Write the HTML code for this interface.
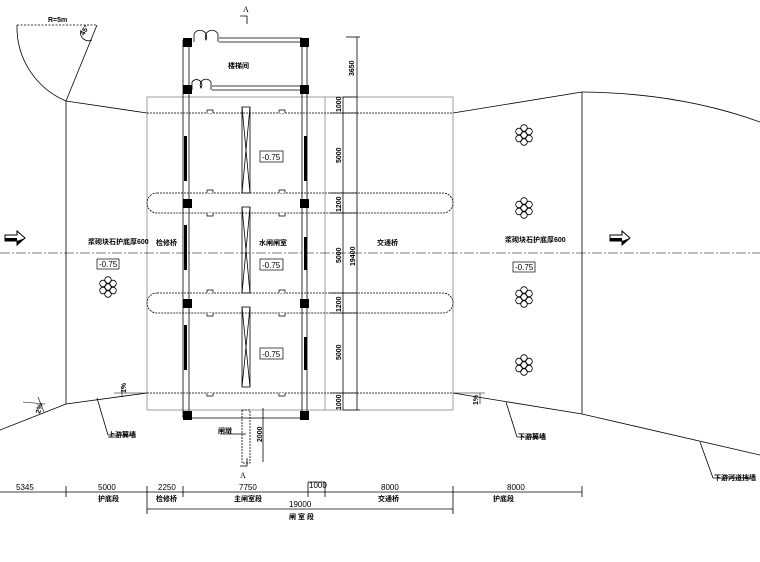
<!DOCTYPE html>
<html><head><meta charset="utf-8"><style>
html,body{margin:0;padding:0;background:#fff;}
svg{display:block;font-family:"Liberation Sans","Noto Sans CJK SC",sans-serif;}
text{font-size:8px;fill:#000;}
.s{font-size:7px;font-weight:bold;}
</style></head><body>
<svg width="760" height="562" viewBox="0 0 760 562" xmlns="http://www.w3.org/2000/svg">
<defs>
<g id="stone" fill="none" stroke="#000" stroke-width="0.8">
<circle cx="0" cy="-7" r="3.3"/><circle cx="-5" cy="-3.5" r="3.3"/><circle cx="5" cy="-3.5" r="3.3"/>
<circle cx="0" cy="0" r="3.3"/><circle cx="-5" cy="3.5" r="3.3"/><circle cx="5" cy="3.5" r="3.3"/><circle cx="0" cy="7" r="3.3"/>
</g>
<g id="arrow"><polygon points="0,-3 12,-3 12,-7 20,0 12,7 12,3 0,3" fill="#fff" stroke="#000"/><polygon points="0,0 12,0 12,3 20,0 12,7 12,3 0,3" fill="#000"/></g>
<g id="notch" fill="#fff" stroke="#000" stroke-width="0.7"><path d="M-3,0 V-3 H3 V0"/></g>
<g id="notchd" fill="#fff" stroke="#000" stroke-width="0.7"><path d="M-3,0 V3 H3 V0"/></g>
</defs>
<g fill="none" stroke="#000" stroke-width="0.8">
<line x1="17" y1="25" x2="97" y2="25" stroke-dasharray="2,1.5"/>
<path d="M17,25 A80,80 0 0 0 66,101"/>
<line x1="97" y1="25" x2="66" y2="101"/>
<path d="M81,30 A8,8 0 0 0 92,40"/>
<line x1="66" y1="101" x2="66" y2="404"/>
<line x1="66" y1="101" x2="147" y2="113"/>
<polyline points="147,393 66,404 0,430"/>
<line x1="97" y1="398" x2="108" y2="435"/><line x1="108" y1="435" x2="135" y2="435"/>
<line x1="582" y1="92" x2="582" y2="414"/>
<line x1="453" y1="113" x2="582" y2="92"/>
<path d="M582,92 Q680,93 760,122"/>
<polyline points="453,393 582,414 760,455"/>
<line x1="506" y1="402" x2="517" y2="437"/><line x1="517" y1="437" x2="545" y2="437"/>
<line x1="700" y1="442" x2="713" y2="478"/><line x1="713" y1="478" x2="750" y2="478"/>
<rect x="147" y="97" width="306" height="313" stroke="#888"/>
<line x1="325" y1="97" x2="325" y2="410" stroke="#888"/>
<line x1="147" y1="113" x2="453" y2="113" stroke-dasharray="2,1"/>
<line x1="147" y1="393" x2="453" y2="393" stroke-dasharray="2,1"/>
<path d="M157,193 H443 A10,10 0 0 1 443,213 H157 A10,10 0 0 1 157,193 Z" stroke-dasharray="2,1"/>
<path d="M157,293 H443 A10,10 0 0 1 443,313 H157 A10,10 0 0 1 157,293 Z" stroke-dasharray="2,1"/>
<line x1="183" y1="40" x2="183" y2="418"/><line x1="189" y1="40" x2="189" y2="418"/>
<line x1="302" y1="40" x2="302" y2="418"/><line x1="307" y1="40" x2="307" y2="418"/>
<line x1="219" y1="38" x2="302" y2="38"/><line x1="219" y1="42" x2="302" y2="42"/>
<line x1="212" y1="86" x2="302" y2="86"/><line x1="212" y1="90" x2="302" y2="90"/>
<path d="M194,42 V34 A6,6 0 0 1 206,40 A6,6 0 0 1 218,34 V42"/>
<path d="M192,90 V82 A5,5 0 0 1 201,88 A5,5 0 0 1 211,82 V90"/>
<line x1="183" y1="418" x2="307" y2="418"/>
<rect x="242" y="107" width="8" height="86"/><path d="M242,107 L250,193 M250,107 L242,193"/>
<rect x="242" y="207" width="8" height="86"/><path d="M242,207 L250,293 M250,207 L242,293"/>
<rect x="242" y="307" width="8" height="80"/><path d="M242,307 L250,387 M250,307 L242,387"/>
<rect x="242" y="410" width="8" height="53" stroke-dasharray="2,1"/>
<line x1="220" y1="434" x2="246" y2="434"/>
<line x1="263" y1="408" x2="263" y2="462"/>
<line x1="343" y1="97" x2="343" y2="410"/><line x1="357" y1="37" x2="357" y2="410"/>
<line x1="343" y1="97" x2="357" y2="97"/><line x1="330" y1="113" x2="357" y2="113"/>
<line x1="330" y1="193" x2="357" y2="193"/><line x1="330" y1="213" x2="357" y2="213"/>
<line x1="330" y1="293" x2="357" y2="293"/><line x1="330" y1="313" x2="357" y2="313"/>
<line x1="330" y1="393" x2="357" y2="393"/><line x1="343" y1="410" x2="360" y2="410"/>
<line x1="346" y1="37" x2="360" y2="37"/>
<polyline points="240,16 247,16 247,24"/><polyline points="247,458 247,466 240,466"/>
<line x1="0" y1="492" x2="582" y2="492"/>
<line x1="147" y1="509" x2="453" y2="509"/>
<path d="M66,486 V497 M147,486 V514 M183,486 V497 M308,482 V497 M325,482 V497 M453,486 V514 M582,486 V497"/>
<line x1="308" y1="482" x2="325" y2="482"/>
</g>
<use href="#notch" x="210" y="113"/><use href="#notch" x="282" y="113"/>
<use href="#notch" x="210" y="193"/><use href="#notch" x="282" y="193"/>
<use href="#notchd" x="210" y="213"/><use href="#notchd" x="282" y="213"/>
<use href="#notch" x="210" y="293"/><use href="#notch" x="282" y="293"/>
<use href="#notchd" x="210" y="313"/><use href="#notchd" x="282" y="313"/>
<use href="#notchd" x="210" y="393"/><use href="#notchd" x="282" y="393"/>
<line x1="0" y1="253" x2="760" y2="253" stroke="#000" stroke-width="0.6" stroke-dasharray="10,2,2,2"/>
<g stroke="#000" stroke-width="0.6" fill="none"><path d="M23,402 L45,404 M38,397 L44,412 M114,393 L147,393 M122,386 V397 M453,393 L485,393 M480,393 V404"/></g>
<g fill="#000">
<rect x="183" y="38" width="9" height="9"/><rect x="300" y="38" width="9" height="9"/>
<rect x="183" y="85" width="9" height="9"/><rect x="300" y="85" width="9" height="9"/>
<rect x="183" y="199" width="9" height="9"/><rect x="300" y="199" width="9" height="9"/>
<rect x="183" y="299" width="9" height="9"/><rect x="300" y="299" width="9" height="9"/>
<rect x="183" y="411" width="9" height="9"/><rect x="300" y="411" width="9" height="9"/>
<rect x="184" y="136" width="3" height="45"/><rect x="304" y="136" width="3" height="45"/>
<rect x="184" y="225" width="3" height="45"/><rect x="304" y="237" width="3" height="33"/>
<rect x="184" y="325" width="3" height="45"/><rect x="304" y="337" width="3" height="33"/>
</g>
<use href="#arrow" x="5" y="238"/><use href="#arrow" x="610" y="238"/>
<use href="#stone" x="108" y="287"/><use href="#stone" x="524" y="135"/><use href="#stone" x="524" y="208"/>
<use href="#stone" x="524" y="297"/><use href="#stone" x="524" y="365"/>
<g fill="none" stroke="#000" stroke-width="0.7">
<rect x="97" y="259" width="22" height="10"/><rect x="260" y="151" width="23" height="11"/>
<rect x="260" y="259" width="23" height="11"/><rect x="260" y="348" width="23" height="11"/>
<rect x="513" y="262" width="22" height="10"/>
</g>
<g font-size="8">
<text x="99" y="267">-0.75</text><text x="262" y="160">-0.75</text><text x="262" y="268">-0.75</text>
<text x="262" y="357">-0.75</text><text x="515" y="270">-0.75</text>
</g>
<text x="243" y="12" font-size="10" font-family="Liberation Serif">A</text>
<text x="240" y="478" font-size="10" font-family="Liberation Serif">A</text>
<text x="48" y="22" class="s">R=5m</text>
<text x="84" y="36" class="s" transform="rotate(-60 84 36)">45°</text>
<text class="s" x="228" y="68">楼梯间</text>
<text x="88" y="244" class="s">浆砌块石护底厚600</text>
<text x="156" y="245" class="s">检修桥</text>
<text x="259" y="245" class="s">水闸闸室</text>
<text x="377" y="245" class="s">交通桥</text>
<text x="505" y="242" class="s">浆砌块石护底厚600</text>
<text x="108" y="437" class="s">上游翼墙</text>
<text x="518" y="439" class="s">下游翼墙</text>
<text x="714" y="480" class="s">下游河道挡墙</text>
<text x="218" y="433" class="s">闸墩</text>
<g class="s" font-size="7">
<text transform="translate(354,76) rotate(-90)" class="s">3650</text>
<text transform="translate(341,112) rotate(-90)" class="s">1000</text>
<text transform="translate(341,163) rotate(-90)" class="s">5000</text>
<text transform="translate(341,212) rotate(-90)" class="s">1200</text>
<text transform="translate(341,263) rotate(-90)" class="s">5000</text>
<text transform="translate(355,266) rotate(-90)" class="s">19400</text>
<text transform="translate(341,312) rotate(-90)" class="s">1200</text>
<text transform="translate(341,360) rotate(-90)" class="s">5000</text>
<text transform="translate(341,410) rotate(-90)" class="s">1000</text>
<text transform="translate(262,442) rotate(-90)" class="s">2000</text>
<text transform="translate(40,414) rotate(-75)" class="s">2%</text>
<text transform="translate(126,393) rotate(-90)" class="s">1%</text>
<text transform="translate(478,405) rotate(-90)" class="s">1%</text>
</g>
<g font-size="7">
<text x="16" y="490">5345</text><text x="98" y="490">5000</text><text x="158" y="490">2250</text>
<text x="239" y="490">7750</text><text x="309" y="488">1000</text><text x="381" y="490">8000</text>
<text x="507" y="490">8000</text><text x="289" y="507">19000</text>
</g>
<text x="98" y="501" class="s">护底段</text><text x="156" y="501" class="s">检修桥</text>
<text x="234" y="501" class="s">主闸室段</text><text x="378" y="501" class="s">交通桥</text>
<text x="493" y="501" class="s">护底段</text><text x="289" y="519" class="s">闸 室 段</text>
</svg>
</body></html>
